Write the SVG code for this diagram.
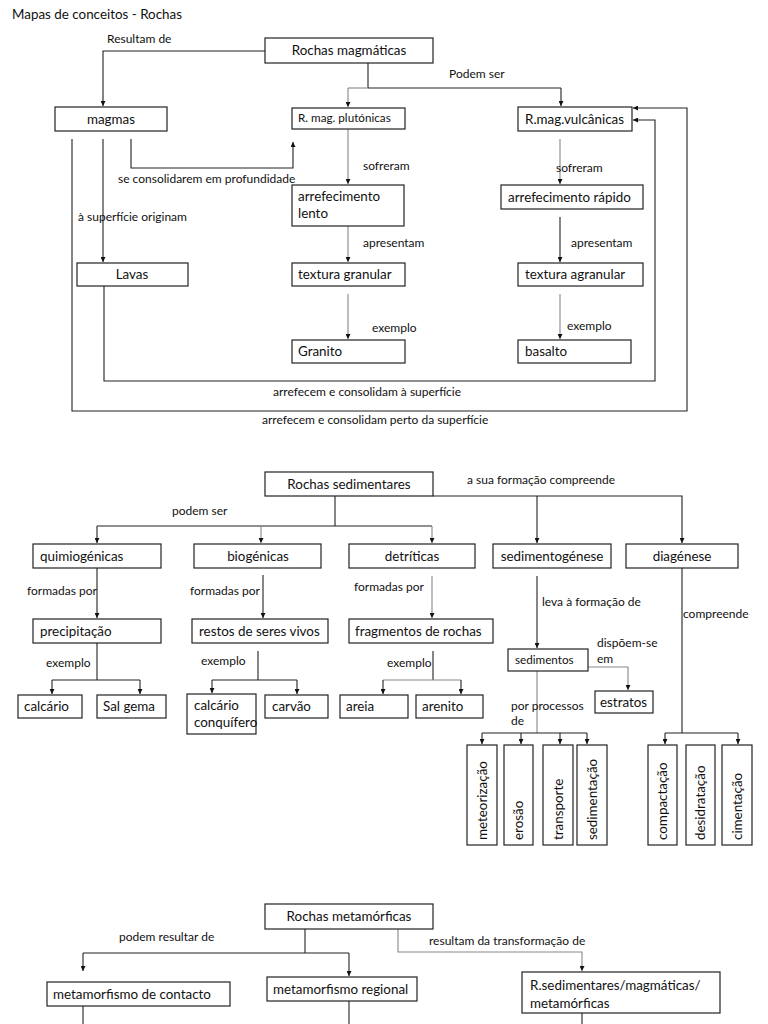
<svg xmlns="http://www.w3.org/2000/svg" width="768" height="1024" viewBox="0 0 768 1024">
<style>
rect{fill:#fff;stroke:#222;stroke-width:1.2}
text{font-family:Lato,"Open Sans","Liberation Sans",sans-serif;fill:#111}
.b{font-size:13.4px}
.c{text-anchor:middle}
.l{font-size:12px}
.s{font-size:11.7px}
.t{font-size:13.4px}
#connectors path{fill:none;stroke:#222;stroke-width:1.1}
#connectors path.g{stroke:#888}
#connectors path.a{marker-end:url(#arr)}
</style>
<defs>
<marker id="arr" markerWidth="5" markerHeight="5" refX="5" refY="2.5" orient="auto" markerUnits="userSpaceOnUse"><path d="M0,0 L5,2.5 L0,5 z" fill="#111"/></marker>
</defs>
<rect x="0" y="0" width="768" height="1024" style="fill:#fff;stroke:none"/>
<text class="t" x="12" y="19">Mapas de conceitos - Rochas</text>

<g id="connectors">
<path class="a" d="M265,51 H103 V106"/>
<path d="M368,63 V88"/>
<path class="g" d="M348,88 H368"/>
<path d="M368,88 H561"/>
<path class="a g" d="M348,88 V107"/>
<path class="a" d="M561,88 V106"/>
<path class="a" d="M131,139 V168 H293 V142"/>
<path class="a" d="M72,139 V411 H687 V108 H633"/>
<path class="a" d="M103,139 V262"/>
<path class="a" d="M104,286 V381 H655 V120 H633"/>
<path class="a g" d="M348,129 V184"/>
<path class="a g" d="M348,226 V262"/>
<path class="a g" d="M348,294 V339"/>
<path class="a g" d="M560,139 V184"/>
<path class="a" d="M560,217 V262"/>
<path class="a g" d="M560,294 V339"/>
<path class="a" d="M433,496 H682 V543"/>
<path class="a" d="M537,496 V543"/>
<path d="M335,496 V526"/>
<path d="M97,526 H432"/>
<path class="a" d="M97,526 V543"/>
<path class="a g" d="M261,526 V543"/>
<path class="a g" d="M432,526 V543"/>
<path class="a" d="M97,568 V618"/>
<path d="M97,643 V680"/>
<path d="M52,680 H140"/>
<path class="a" d="M52,680 V694"/>
<path class="a" d="M140,680 V694"/>
<path class="a" d="M263,575 V618"/>
<path d="M258,651 V680"/>
<path d="M212,680 H297"/>
<path class="a" d="M212,680 V693"/>
<path class="a" d="M297,680 V694"/>
<path class="a g" d="M432,576 V618"/>
<path d="M433,651 V680"/>
<path class="g" d="M383,680 H461"/>
<path class="a" d="M383,680 V694"/>
<path class="a" d="M461,680 V694"/>
<path class="a" d="M537,576 V648"/>
<path class="a g" d="M588,667 H628 V690"/>
<path class="g" d="M537,671 V733"/>
<path d="M482,733 H587"/>
<path class="a" d="M482,733 V744"/>
<path class="a" d="M521,733 V744"/>
<path class="a" d="M560,733 V744"/>
<path class="a" d="M587,733 V744"/>
<path d="M682,568 V733"/>
<path d="M665,733 H738"/>
<path class="a" d="M665,733 V744"/>
<path class="a" d="M738,733 V744"/>
<path d="M305,929 V953"/>
<path d="M83,953 H349"/>
<path class="a" d="M83,953 V971"/>
<path class="a" d="M349,953 V976"/>
<path class="a g" d="M398,929 V952 H582 V971"/>
<path d="M83,1006 V1024"/>
<path d="M349,1001 V1024"/>
<path d="M582,1013 V1024"/>
</g>

<g id="labels">
<text class="l" x="107" y="43">Resultam de</text>
<text class="l" x="449" y="78">Podem ser</text>
<text class="l" x="118" y="183">se  consolidarem em profundidade</text>
<text class="l" x="363" y="170">sofreram</text>
<text class="l" x="556" y="172">sofreram</text>
<text class="l" x="78" y="221">à superfície originam</text>
<text class="l" x="363" y="247">apresentam</text>
<text class="l" x="571" y="247">apresentam</text>
<text class="l" x="372" y="332">exemplo</text>
<text class="l" x="567" y="330">exemplo</text>
<text class="l" x="273" y="396">arrefecem e consolidam à superfície</text>
<text class="l" x="262" y="424">arrefecem e consolidam perto da superfície</text>
<text class="l" x="467" y="484">a sua formação compreende</text>
<text class="l" x="172" y="515">podem ser</text>
<text class="l" x="27" y="595">formadas por</text>
<text class="l" x="190" y="595">formadas por</text>
<text class="l" x="354" y="591">formadas por</text>
<text class="l" x="542" y="606">leva à formação de</text>
<text class="l" x="683" y="618">compreende</text>
<text class="l" x="46" y="667">exemplo</text>
<text class="l" x="201" y="665">exemplo</text>
<text class="l" x="387" y="667">exemplo</text>
<text class="l" x="597" y="647">dispõem-se</text>
<text class="l" x="597" y="663">em</text>
<text class="l" x="511" y="710">por processos</text>
<text class="l" x="511" y="725">de</text>
<text class="l" x="119" y="941">podem resultar de</text>
<text class="l" x="429" y="945">resultam da transformação de</text>
</g>

<g id="n-rochas-magmaticas"><rect x="265" y="38" width="168" height="25"/><text class="b c" x="349" y="55">Rochas magmáticas</text></g>
<g id="n-magmas"><rect x="55" y="107" width="112" height="24"/><text class="b c" x="111" y="124">magmas</text></g>
<g id="n-plutonicas"><rect x="292" y="108" width="113" height="21"/><text class="s" x="298" y="122">R. mag. plutónicas</text></g>
<g id="n-vulcanicas"><rect x="518" y="107" width="114" height="24"/><text class="b" x="525" y="124">R.mag.vulcânicas</text></g>
<g id="n-arref-lento"><rect x="292" y="185" width="112" height="41"/><text class="b" x="298" y="201">arrefecimento</text><text class="b" x="298" y="218">lento</text></g>
<g id="n-arref-rapido"><rect x="501" y="185" width="142" height="24"/><text class="b" x="508" y="202">arrefecimento rápido</text></g>
<g id="n-lavas"><rect x="77" y="263" width="111" height="23"/><text class="b c" x="132" y="279">Lavas</text></g>
<g id="n-textura-granular"><rect x="292" y="263" width="113" height="23"/><text class="b" x="298" y="279">textura granular</text></g>
<g id="n-textura-agranular"><rect x="518" y="263" width="125" height="23"/><text class="b" x="525" y="279">textura agranular</text></g>
<g id="n-granito"><rect x="292" y="340" width="113" height="23"/><text class="b" x="298" y="356">Granito</text></g>
<g id="n-basalto"><rect x="518" y="340" width="113" height="23"/><text class="b" x="525" y="356">basalto</text></g>

<g id="n-rochas-sedimentares"><rect x="265" y="472" width="168" height="24"/><text class="b c" x="349" y="489">Rochas sedimentares</text></g>
<g id="n-quimiogenicas"><rect x="33" y="544" width="128" height="24"/><text class="b" x="40" y="561">quimiogénicas</text></g>
<g id="n-biogenicas"><rect x="194" y="544" width="127" height="24"/><text class="b c" x="258" y="561">biogénicas</text></g>
<g id="n-detriticas"><rect x="349" y="544" width="126" height="24"/><text class="b c" x="412" y="561">detríticas</text></g>
<g id="n-sedimentogenese"><rect x="493" y="544" width="118" height="24"/><text class="b c" x="552" y="561">sedimentogénese</text></g>
<g id="n-diagenese"><rect x="626" y="544" width="112" height="24"/><text class="b c" x="682" y="561">diagénese</text></g>
<g id="n-precipitacao"><rect x="33" y="619" width="128" height="24"/><text class="b" x="40" y="636">precipitação</text></g>
<g id="n-restos"><rect x="192" y="619" width="136" height="24"/><text class="b" x="199" y="636">restos de seres vivos</text></g>
<g id="n-fragmentos"><rect x="349" y="619" width="144" height="24"/><text class="b" x="355" y="636">fragmentos de rochas</text></g>
<g id="n-sedimentos"><rect x="508" y="649" width="80" height="22"/><text class="s" x="515" y="664">sedimentos</text></g>
<g id="n-estratos"><rect x="595" y="691" width="58" height="22"/><text class="b" x="600" y="707">estratos</text></g>
<g id="n-calcario"><rect x="18" y="695" width="64" height="23"/><text class="b" x="24" y="711">calcário</text></g>
<g id="n-sal-gema"><rect x="97" y="695" width="69" height="23"/><text class="b" x="103" y="711">Sal gema</text></g>
<g id="n-calcario-conquifero"><rect x="187" y="694" width="69" height="40"/><text class="b" x="194" y="710">calcário</text><text class="b" x="194" y="727">conquífero</text></g>
<g id="n-carvao"><rect x="265" y="695" width="63" height="23"/><text class="b" x="272" y="711">carvão</text></g>
<g id="n-areia"><rect x="340" y="695" width="68" height="23"/><text class="b" x="346" y="711">areia</text></g>
<g id="n-arenito"><rect x="416" y="695" width="67" height="23"/><text class="b" x="422" y="711">arenito</text></g>
<g id="n-meteorizacao"><rect x="467" y="745" width="30" height="100"/><text class="b" transform="translate(486.5,840) rotate(-90)">meteorização</text></g>
<g id="n-erosao"><rect x="504" y="745" width="29" height="100"/><text class="b" transform="translate(523,840) rotate(-90)">erosão</text></g>
<g id="n-transporte"><rect x="543" y="745" width="30" height="100"/><text class="b" transform="translate(562.5,840) rotate(-90)">transporte</text></g>
<g id="n-sedimentacao"><rect x="577" y="745" width="30" height="100"/><text class="b" transform="translate(596.5,840) rotate(-90)">sedimentação</text></g>
<g id="n-compactacao"><rect x="648" y="745" width="29" height="100"/><text class="b" transform="translate(667,840) rotate(-90)">compactação</text></g>
<g id="n-desidratacao"><rect x="686" y="745" width="29" height="100"/><text class="b" transform="translate(705,840) rotate(-90)">desidratação</text></g>
<g id="n-cimentacao"><rect x="722" y="745" width="30" height="100"/><text class="b" transform="translate(741.5,840) rotate(-90)">cimentação</text></g>

<g id="n-rochas-metamorficas"><rect x="265" y="904" width="168" height="25"/><text class="b c" x="349" y="921">Rochas metamórficas</text></g>
<g id="n-contacto"><rect x="47" y="982" width="183" height="24"/><text class="b" x="53" y="999">metamorfismo de contacto</text></g>
<g id="n-regional"><rect x="267" y="977" width="150" height="24"/><text class="b" x="273" y="994">metamorfismo regional</text></g>
<g id="n-rsed"><rect x="522" y="972" width="198" height="41"/><text class="b" x="530" y="990">R.sedimentares/magmáticas/</text><text class="b" x="530" y="1008">metamórficas</text></g>
</svg>
